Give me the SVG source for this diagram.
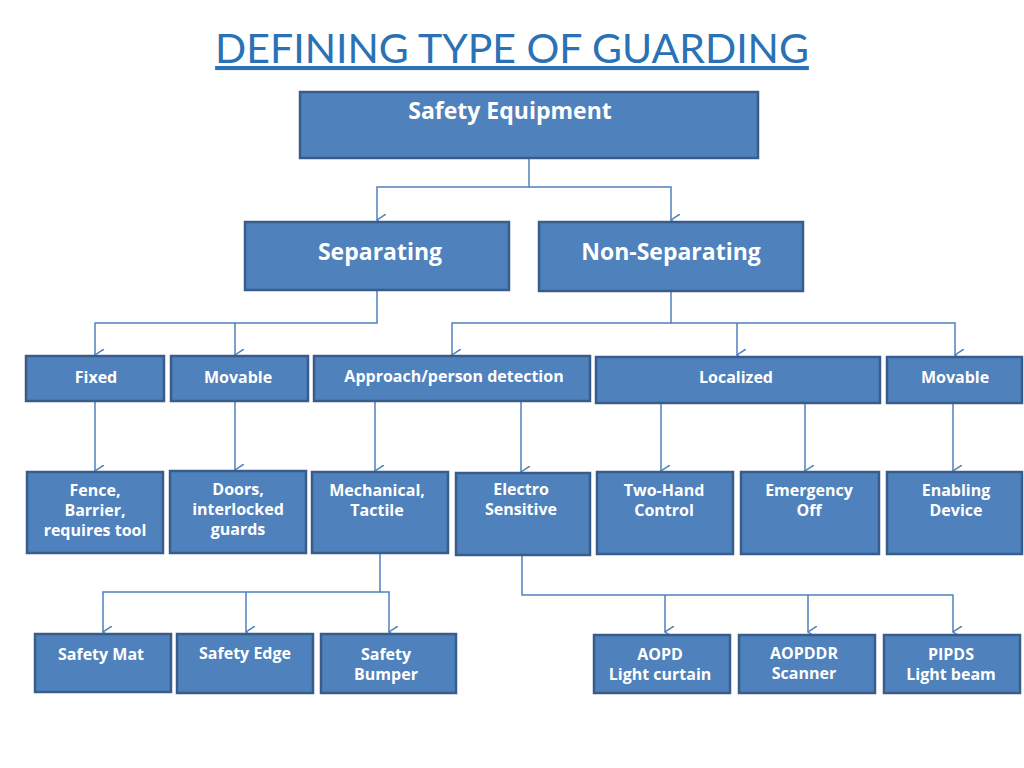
<svg xmlns="http://www.w3.org/2000/svg" width="1024" height="768" viewBox="0 0 1024 768">
<style>
.b{fill:#4f81bd;stroke:#385d8a;stroke-width:2.5}
.t{font-family:"Open Sans","Liberation Sans",sans-serif;font-weight:bold;fill:#fff;text-anchor:middle;font-size:16px}
.big{font-size:23px}
.c{fill:none;stroke:#4f81bd;stroke-width:1.5}
</style>
<defs><marker id="a" markerWidth="12" markerHeight="10" refX="6" refY="9" orient="auto-start-reverse" markerUnits="userSpaceOnUse" viewBox="0 0 12 10"><path d="M0,0 L6,9 L12,0" fill="none" stroke="#4f81bd" stroke-width="1.5"/></marker></defs>
<rect width="1024" height="768" fill="#fff"/>
<text x="512" y="63" text-anchor="middle" font-family="Lato,'Open Sans',sans-serif" font-size="41" fill="#2a72b5" text-decoration="underline">DEFINING TYPE OF GUARDING</text>
<g id="connectors">
<path class="c" d="M529,158V187H377V220" marker-end="url(#a)"/>
<path class="c" d="M529,187H671V220" marker-end="url(#a)"/>
<path class="c" d="M377,290V323H95V355" marker-end="url(#a)"/>
<path class="c" d="M235,323V355" marker-end="url(#a)"/>
<path class="c" d="M671,291V323H452V355" marker-end="url(#a)"/>
<path class="c" d="M671,323H955V355" marker-end="url(#a)"/>
<path class="c" d="M737,323V355" marker-end="url(#a)"/>
<path class="c" d="M95,401V471" marker-end="url(#a)"/>
<path class="c" d="M235,401V470" marker-end="url(#a)"/>
<path class="c" d="M375,401V471" marker-end="url(#a)"/>
<path class="c" d="M521,401V472" marker-end="url(#a)"/>
<path class="c" d="M661,403V471" marker-end="url(#a)"/>
<path class="c" d="M805,403V471" marker-end="url(#a)"/>
<path class="c" d="M953,403V471" marker-end="url(#a)"/>
<path class="c" d="M380,553V592H103V632" marker-end="url(#a)"/>
<path class="c" d="M246,592V632" marker-end="url(#a)"/>
<path class="c" d="M380,592H389V632" marker-end="url(#a)"/>
<path class="c" d="M522,555V595H953V632" marker-end="url(#a)"/>
<path class="c" d="M665,595V632" marker-end="url(#a)"/>
<path class="c" d="M808,595V632" marker-end="url(#a)"/>
</g>
<g id="n1"><rect class="b" x="300" y="92" width="458" height="66"/><text class="t big" x="510" y="119">Safety Equipment</text></g>
<g id="n2"><rect class="b" x="245" y="222" width="264" height="68"/><text class="t big" x="380" y="260">Separating</text></g>
<g id="n3"><rect class="b" x="539" y="222" width="264" height="69"/><text class="t big" x="671" y="260">Non-Separating</text></g>
<g id="n4"><rect class="b" x="26" y="356" width="138" height="45"/><text class="t" x="96" y="383">Fixed</text></g>
<g id="n5"><rect class="b" x="171" y="356" width="137" height="45"/><text class="t" x="238" y="383">Movable</text></g>
<g id="n6"><rect class="b" x="314" y="356" width="276" height="45"/><text class="t" x="454" y="382">Approach/person detection</text></g>
<g id="n7"><rect class="b" x="596" y="357" width="284" height="46"/><text class="t" x="736" y="383">Localized</text></g>
<g id="n8"><rect class="b" x="887" y="357" width="135" height="46"/><text class="t" x="955" y="383">Movable</text></g>
<g id="n9"><rect class="b" x="27" y="472" width="136" height="81"/><text class="t" x="95" y="496">Fence,<tspan x="95" dy="20">Barrier,</tspan><tspan x="95" dy="20">requires tool</tspan></text></g>
<g id="n10"><rect class="b" x="170" y="471" width="136" height="82"/><text class="t" x="238" y="495">Doors,<tspan x="238" dy="20">interlocked</tspan><tspan x="238" dy="20">guards</tspan></text></g>
<g id="n11"><rect class="b" x="312" y="472" width="136" height="81"/><text class="t" x="377" y="496">Mechanical,<tspan x="377" dy="20">Tactile</tspan></text></g>
<g id="n12"><rect class="b" x="456" y="473" width="134" height="82"/><text class="t" x="521" y="495">Electro<tspan x="521" dy="20">Sensitive</tspan></text></g>
<g id="n13"><rect class="b" x="597" y="472" width="136" height="82"/><text class="t" x="664" y="496">Two-Hand<tspan x="664" dy="20">Control</tspan></text></g>
<g id="n14"><rect class="b" x="741" y="472" width="138" height="82"/><text class="t" x="809" y="496">Emergency<tspan x="809" dy="20">Off</tspan></text></g>
<g id="n15"><rect class="b" x="887" y="472" width="135" height="82"/><text class="t" x="956" y="496">Enabling<tspan x="956" dy="20">Device</tspan></text></g>
<g id="n16"><rect class="b" x="35" y="634" width="136" height="58"/><text class="t" x="101" y="660">Safety Mat</text></g>
<g id="n17"><rect class="b" x="177" y="634" width="136" height="59"/><text class="t" x="245" y="659">Safety Edge</text></g>
<g id="n18"><rect class="b" x="321" y="634" width="135" height="59"/><text class="t" x="386" y="660">Safety<tspan x="386" dy="20">Bumper</tspan></text></g>
<g id="n19"><rect class="b" x="594" y="635" width="136" height="58"/><text class="t" x="660" y="660">AOPD<tspan x="660" dy="20">Light curtain</tspan></text></g>
<g id="n20"><rect class="b" x="739" y="635" width="136" height="58"/><text class="t" x="804" y="659">AOPDDR<tspan x="804" dy="20">Scanner</tspan></text></g>
<g id="n21"><rect class="b" x="884" y="635" width="136" height="58"/><text class="t" x="951" y="660">PIPDS<tspan x="951" dy="20">Light beam</tspan></text></g>
</svg>
